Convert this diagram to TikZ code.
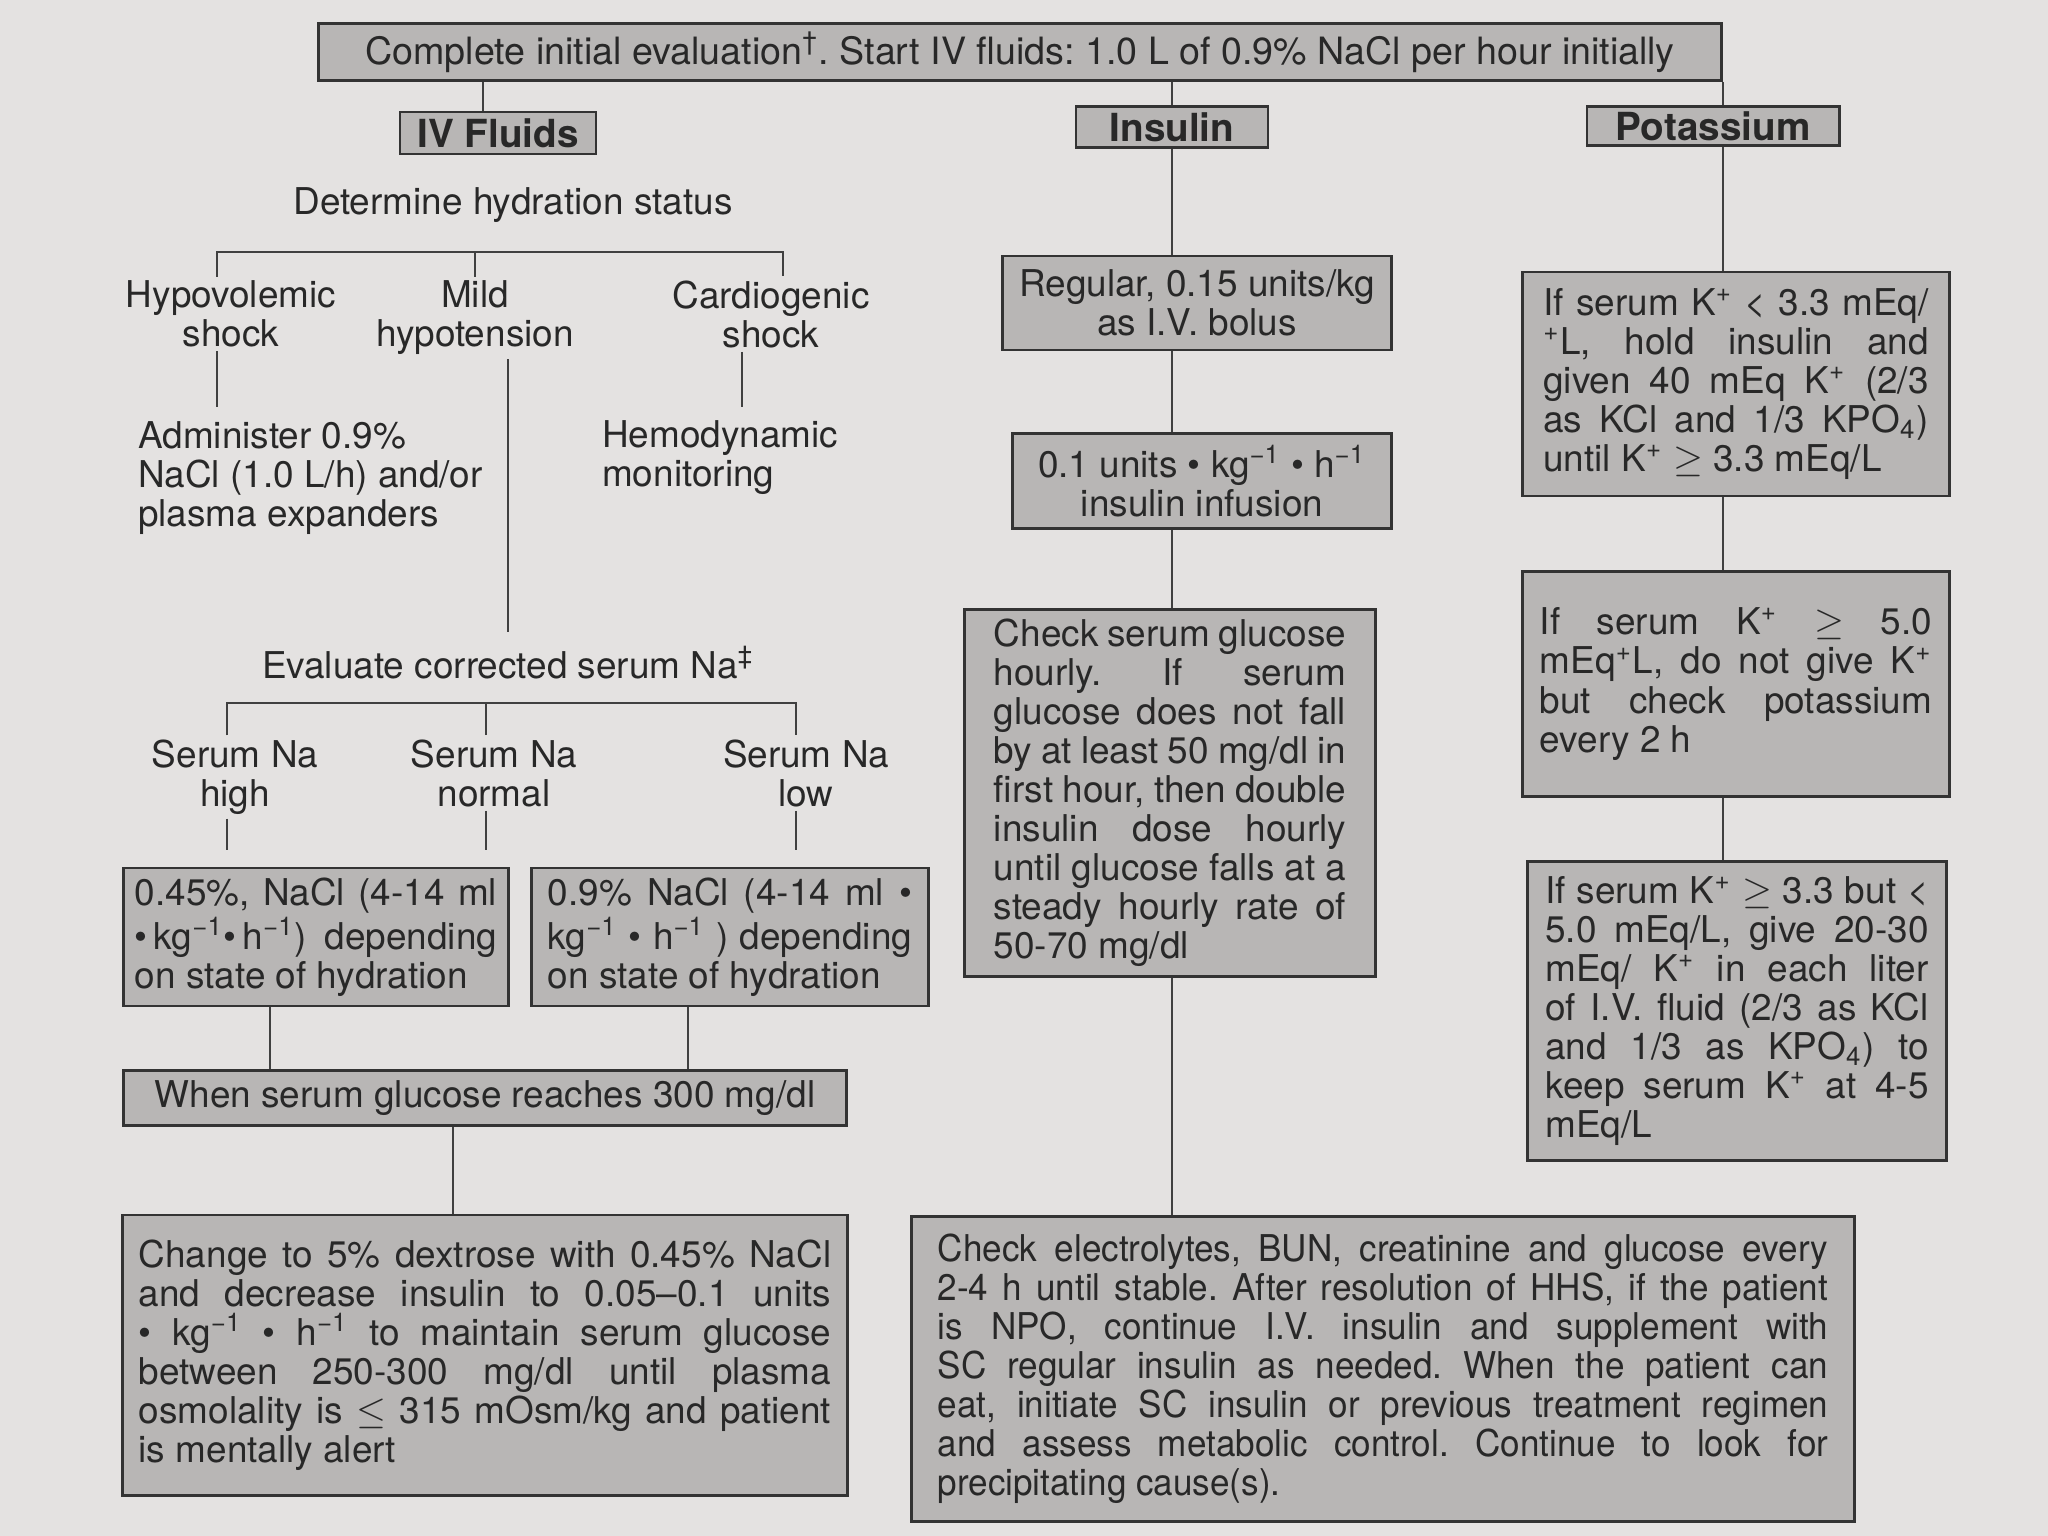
\documentclass[tikz,border=0pt]{standalone}
\usepackage{fontspec}
\setmainfont{TeX Gyre Heros}
\newfontfamily\narrowfont[FakeStretch=0.95]{TeX Gyre Heros}
\usepackage{xcolor}
\usetikzlibrary{positioning,calc}

\definecolor{paper}{RGB}{228,226,225}
\definecolor{boxfill}{RGB}{184,182,181}
\definecolor{ink}{RGB}{40,40,40}

\newcommand{\Kp}{K\textsuperscript{+}}
\newcommand{\inv}{\textsuperscript{−1}}
\newcommand{\bodyfont}{\fontsize{10.5}{11.1}\selectfont}
\frenchspacing

\begin{document}
\begin{tikzpicture}[x=0.01cm, y=-0.01cm,
  graybox/.style={draw=black!80, fill=boxfill, line width=0.8pt, inner sep=0pt, text=ink, font=\bodyfont},
  headbox/.style={graybox, font=\bfseries\fontsize{11}{12}\selectfont},
  flowtext/.style={text width=#1, align=justify},
  plaintext/.style={text=ink, font=\bodyfont, align=center, inner sep=1pt},
  link/.style={draw=black!75, line width=0.6pt}]

\useasboundingbox (0,0) rectangle (2048,1536);
\fill[paper] (0,0) rectangle (2048,1536);

% header row
\node[graybox, minimum width=14.02cm, minimum height=0.57cm, font=\fontsize{10.7}{12}\selectfont] (top) at (1020,52) {Complete initial evaluation\textsuperscript{\textdagger}. Start IV fluids: 1.0 L of 0.9\% NaCl per hour initially};
\node[headbox, minimum width=1.96cm, minimum height=0.42cm] (ivf) at (498,133) {IV Fluids};
\node[headbox, minimum width=1.92cm, minimum height=0.41cm] (ins) at (1172,127) {Insulin};
\node[headbox, minimum width=2.52cm, minimum height=0.39cm] (pot) at (1713,126) {Potassium};

% IV fluids column
\node[plaintext] (det) at (513,205) {Determine hydration status};
\node[plaintext] (hypo) at (231,314) {Hypovolemic\\shock};
\node[plaintext] (mild) at (475,318) {Mild\\hypotension};
\node[plaintext] (card) at (771,314) {Cardiogenic\\shock};
\node[plaintext, align=left, anchor=west] (admin) at (134,478) {Administer 0.9\%\\NaCl (1.0 L/h) and/or\\plasma expanders};
\node[plaintext, align=left, anchor=west] (hemo) at (598,458) {Hemodynamic\\monitoring};

\node[plaintext] (eval) at (508,663) {Evaluate corrected serum Na\textsuperscript{\textdaggerdbl}};
\node[plaintext] (high) at (235,777) {Serum Na\\high};
\node[plaintext] (norm) at (494,773) {Serum Na\\normal};
\node[plaintext] (low) at (806,773) {Serum Na\\low};

\node[graybox, flowtext=3.62cm, minimum width=3.84cm, minimum height=1.38cm] (half) at (316,937) {0.45\%, NaCl (4-14 ml\linebreak \textbullet\,kg\inv\textbullet\,h\inv) depending\linebreak on state of hydration};
\node[graybox, flowtext=3.64cm, minimum width=3.97cm, minimum height=1.38cm] (full) at (730,937) {0.9\% NaCl (4-14 ml \textbullet\linebreak kg\inv\ \textbullet\ h\inv\ ) depending\linebreak on state of hydration};
\node[graybox, minimum width=7.22cm, minimum height=0.55cm] (when) at (485,1098) {When serum glucose reaches 300 mg/dl};
\node[graybox, flowtext=6.92cm, minimum width=7.25cm, minimum height=2.80cm] (dex) at (485,1355) {Change to 5\% dextrose with 0.45\% NaCl\linebreak and decrease insulin to 0.05–0.1 units\linebreak \textbullet\ kg\inv\ \textbullet\ h\inv\ to maintain serum glucose\linebreak between 250-300 mg/dl until plasma\linebreak osmolality is $\leq$ 315 mOsm/kg and patient\linebreak is mentally alert};

% insulin column
\node[graybox, align=center, minimum width=3.89cm, minimum height=0.94cm] (bolus) at (1197,303) {Regular, 0.15 units/kg\\as I.V. bolus};
\node[graybox, align=center, minimum width=3.78cm, minimum height=0.95cm] (infus) at (1202,481) {0.1 units \textbullet\ kg\inv\ \textbullet\ h\inv\\insulin infusion};
\node[graybox, flowtext=3.52cm, minimum width=4.11cm, minimum height=3.66cm] (gluc) at (1170,793) {Check serum glucose\linebreak hourly. If serum\linebreak glucose does not fall\linebreak by at least 50 mg/dl in\linebreak first hour, then double\linebreak insulin dose hourly\linebreak until glucose falls at a\linebreak steady hourly rate of\linebreak 50-70 mg/dl};
\node[graybox, flowtext=8.9cm, minimum width=9.43cm, minimum height=3.05cm, font=\narrowfont\bodyfont] (lyte) at (1383,1369) {Check electrolytes, BUN, creatinine and glucose every\linebreak 2-4 h until stable. After resolution of HHS, if the patient\linebreak is NPO, continue I.V. insulin and supplement with\linebreak SC regular insulin as needed. When the patient can\linebreak eat, initiate SC insulin or previous treatment regimen\linebreak and assess metabolic control. Continue to look for\linebreak precipitating cause(s).};

% potassium column
\node[graybox, flowtext=3.85cm, minimum width=4.26cm, minimum height=2.24cm] (klow) at (1736,384) {If serum \Kp{} < 3.3 mEq/\linebreak \textsuperscript{+}L, hold insulin and\linebreak given 40 mEq \Kp{} (2/3\linebreak as KCl and 1/3 KPO\textsubscript{4})\linebreak until \Kp{} $\geq$ 3.3 mEq/L};
\node[graybox, flowtext=3.92cm, minimum width=4.26cm, minimum height=2.25cm] (khigh) at (1736,684) {If serum \Kp{} $\geq$ 5.0\linebreak mEq\textsuperscript{+}L, do not give \Kp\linebreak but check potassium\linebreak every 2 h};
\node[graybox, flowtext=3.83cm, minimum width=4.18cm, minimum height=2.99cm] (kmid) at (1737,1011) {If serum \Kp{} $\geq$ 3.3 but <\linebreak 5.0 mEq/L, give 20-30\linebreak mEq/ \Kp{} in each liter\linebreak of I.V. fluid (2/3 as KCl\linebreak and 1/3 as KPO\textsubscript{4}) to\linebreak keep serum \Kp{} at 4-5\linebreak mEq/L};

% connectors
\coordinate (ivfx) at ($(ivf.north)+(-15,0)$);
\draw[link] (ivfx) -- (ivfx |- top.south);
\draw[link] (ins.north) -- (ins.north |- top.south);
\coordinate (kx) at (top.south east);
\draw[link] (kx) -- (kx |- pot.north);
\draw[link] (kx |- pot.south) -- (kx |- klow.north);
\draw[link] (kx |- klow.south) -- (kx |- khigh.north);
\draw[link] (kx |- khigh.south) -- (kx |- kmid.north);

\draw[link] (ins.south) -- (ins.south |- bolus.north);
\draw[link] (ins.south |- bolus.south) -- (ins.south |- infus.north);
\draw[link] (ins.south |- infus.south) -- (ins.south |- gluc.north);
\draw[link] (ins.south |- gluc.south) -- (ins.south |- lyte.north);

% hydration branches
\coordinate (hydbar) at (500,252);
\coordinate (hypox) at ($(hypo.north)+(-14,0)$);
\coordinate (cardx) at ($(card.north)+(12,0)$);
\draw[link] (hypox) |- (hydbar) -| (cardx);
\draw[link] (mild.north) -- (mild.north |- hydbar);
\coordinate (hypoy) at ($(hypo.south)+(-14,0)$);
\coordinate (cardy) at ($(card.south)+(-29,0)$);
\draw[link, shorten >=0.1cm] (hypoy) -- (hypoy |- admin.north);
\draw[link, shorten >=0.1cm] (cardy) -- (cardy |- hemo.north);
\draw[link, shorten >=0.1cm] (eval.north |- mild.south) -- (eval.north);

% sodium branches
\coordinate (nabar) at (500,703);
\coordinate (highx) at ($(high.north)+(-8,0)$);
\coordinate (lowx) at ($(low.north)+(-10,0)$);
\coordinate (normx) at ($(norm.north)+(-8,0)$);
\draw[link] (highx) |- (nabar) -| (lowx);
\draw[link] (normx) -- (normx |- nabar);
\coordinate (highy) at ($(high.south)+(-8,0)$);
\coordinate (normy) at ($(norm.south)+(-8,0)$);
\coordinate (lowy) at ($(low.south)+(-10,0)$);
\draw[link, shorten >=0.17cm] (highy) -- (highy |- half.north);
\draw[link, shorten >=0.17cm] (normy) -- (normy |- half.north);
\draw[link, shorten >=0.17cm] (lowy) -- (lowy |- full.north);

\coordinate (halfx) at ($(half.south)+(-46,0)$);
\draw[link] (halfx) -- (halfx |- when.north);
\coordinate (fullx) at ($(full.south)+(-42,0)$);
\draw[link] (fullx) -- (fullx |- when.north);
\coordinate (whenx) at ($(when.south)+(-32,0)$);
\draw[link] (whenx) -- (whenx |- dex.north);

\end{tikzpicture}
\end{document}
